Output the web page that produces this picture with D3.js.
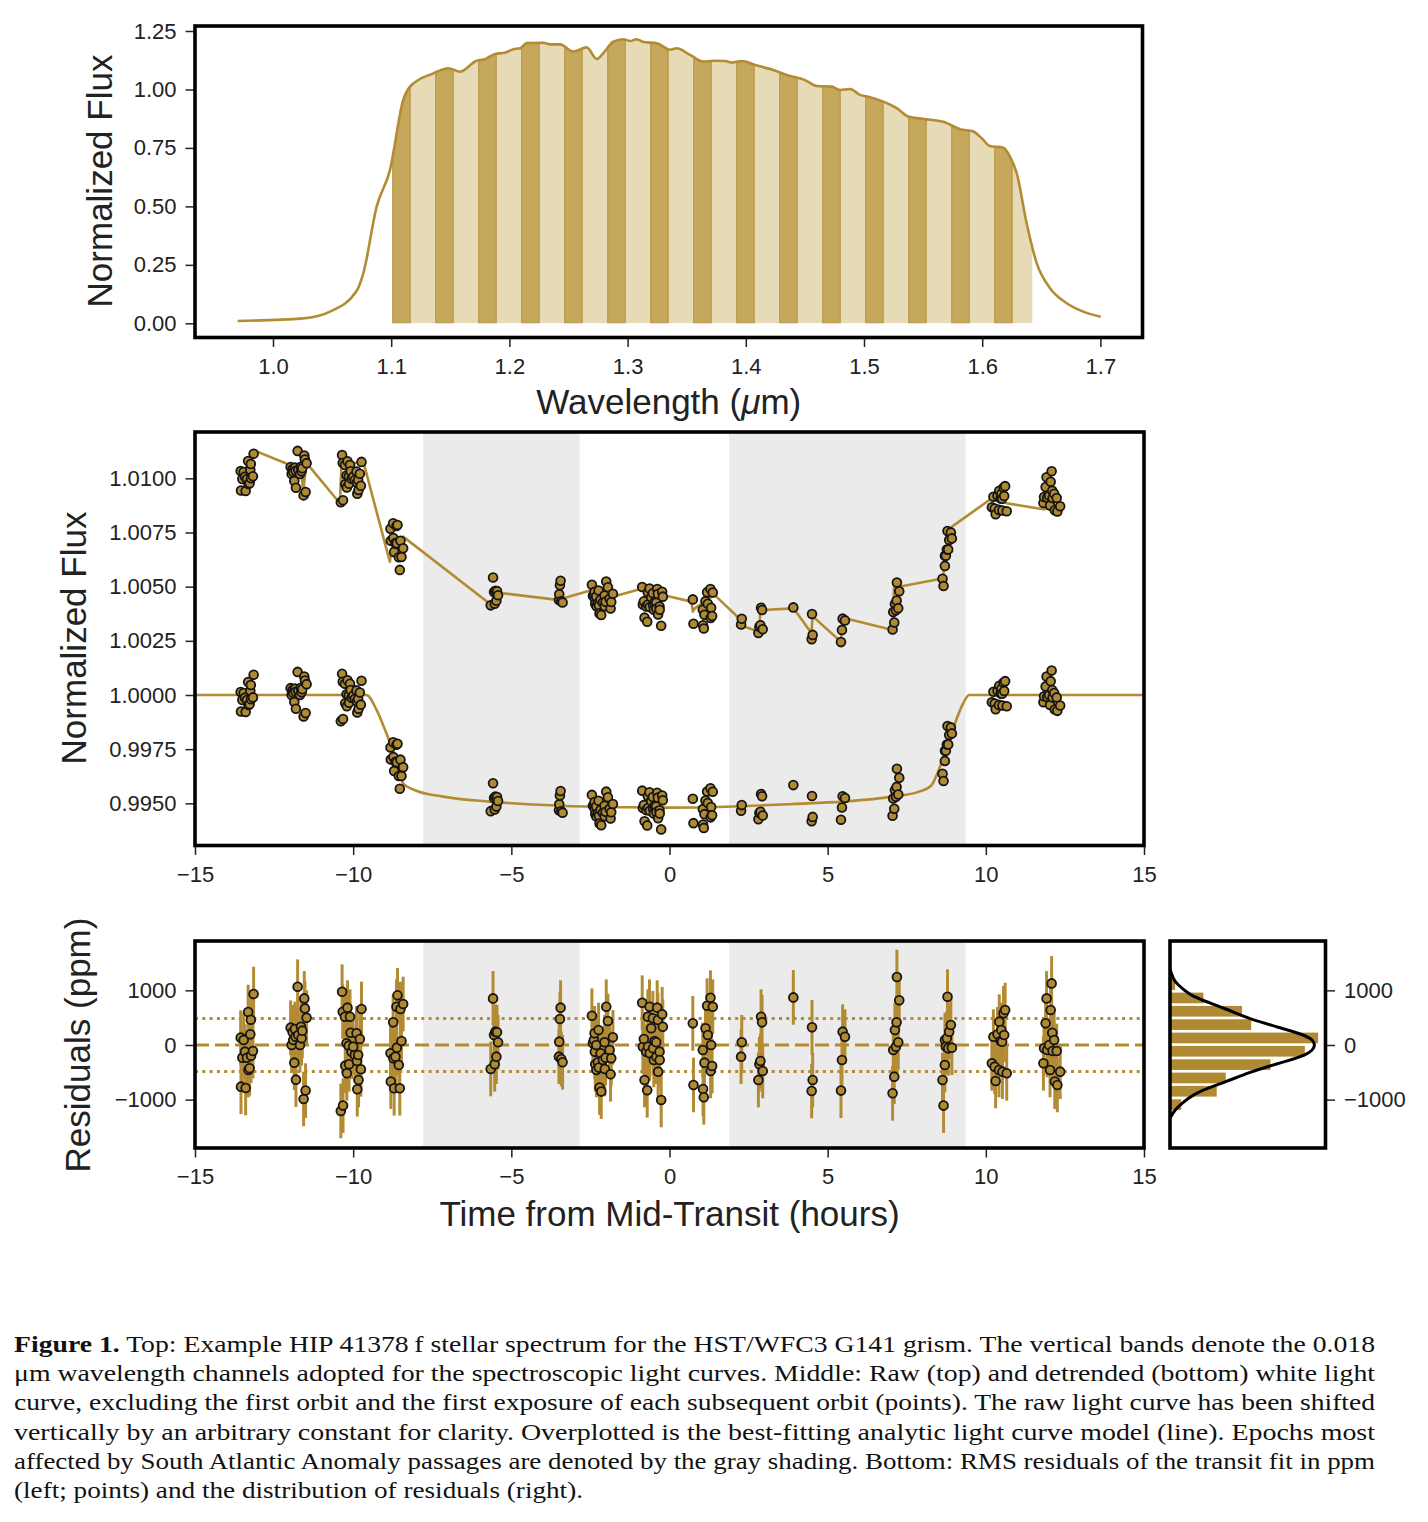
<!DOCTYPE html>
<html>
<head>
<meta charset="utf-8">
<script src="https://cdn.jsdelivr.net/npm/d3@7"></script>
<style>
  body { margin: 0; background: #fff; }
  text { font-family: "Liberation Sans", Arial, sans-serif; fill: #222; }
  .tick text { font-size: 22px; }
  .tick line { stroke: #222; stroke-width: 1.5; }
  .caption text { font-family: "Liberation Serif", "DejaVu Serif", serif; font-size: 24px; fill: #111; }
</style>
</head>
<body>
<svg id="fig"></svg>
<script>
// ---- stellar spectrum (top panel)
var specWave = [0.9701, 1.0256, 1.0482, 1.0708, 1.0764, 1.0877, 1.0990, 1.1102, 1.1159, 1.1356, 1.1483, 1.1582,
  1.1723, 1.1794, 1.1878, 1.1963, 1.2033, 1.2090, 1.2146, 1.2287, 1.2343, 1.2428, 1.2541, 1.2654, 1.2739,
  1.2794, 1.2879, 1.2964, 1.3020, 1.3077, 1.3133, 1.3246, 1.3359, 1.3415, 1.3528, 1.3640, 1.3725, 1.3824,
  1.3881, 1.3965, 1.4078, 1.4233, 1.4346, 1.4501, 1.4600, 1.4727, 1.4797, 1.4882, 1.4966, 1.5051, 1.5277,
  1.5375, 1.5502, 1.5671, 1.5812, 1.5925, 1.5996, 1.6066, 1.6179, 1.6235, 1.6292, 1.6376, 1.6461, 1.6574,
  1.6715, 1.6855, 1.7003];
var specFlux = [0.010, 0.021, 0.050, 0.139, 0.214, 0.499, 0.656, 0.955, 1.012, 1.069, 1.091, 1.076,
  1.123, 1.129, 1.152, 1.157, 1.172, 1.176, 1.198, 1.200, 1.193, 1.193, 1.162, 1.180, 1.130,
  1.155, 1.204, 1.215, 1.207, 1.215, 1.203, 1.198, 1.170, 1.176, 1.148, 1.119, 1.123, 1.122,
  1.115, 1.122, 1.105, 1.083, 1.062, 1.040, 1.015, 1.012, 0.998, 1.002, 0.977, 0.967, 0.920,
  0.884, 0.874, 0.862, 0.830, 0.820, 0.791, 0.758, 0.751, 0.713, 0.642, 0.428, 0.257, 0.150,
  0.086, 0.050, 0.028];
// 0.018 um wavelength channels
var bandStart = 1.1013, bandStep = 0.01819, nChannels = 30, bandEnd = 1.6424;
var wavTicks = [1.0, 1.1, 1.2, 1.3, 1.4, 1.5, 1.6, 1.7];
var specTicks = [0, 0.25, 0.5, 0.75, 1.0, 1.25];

// ---- light curve (middle + bottom panels), one array per HST orbit
var orbitT = [
  [-13.556, -13.546, -13.504, -13.462, -13.42, -13.399, -13.357, -13.32, -13.31, -13.273, -13.252, -13.235, -13.228, -13.168, -13.147],
  [-11.977, -11.945, -11.914, -11.893, -11.861, -11.840, -11.819, -11.809, -11.756, -11.735, -11.682, -11.651, -11.630, -11.609, -11.567, -11.546, -11.525, -11.504, -11.472],
  [-10.39, -10.35, -10.33, -10.32, -10.26, -10.25, -10.21, -10.20, -10.18, -10.14, -10.13, -10.10, -10.08, -10.05, -10.00, -9.947, -9.894, -9.88, -9.87, -9.842, -9.83, -9.789, -9.757, -9.736],
  [-8.82, -8.81, -8.736, -8.73, -8.705, -8.663, -8.631, -8.62, -8.599, -8.557, -8.526, -8.505, -8.473, -8.420],
  [-5.652, -5.578, -5.547, -5.526, -5.505, -5.473, -5.452, -5.42],
  [-3.495, -3.485, -3.464, -3.443, -3.422, -3.38],
  [-2.453, -2.421, -2.389, -2.368, -2.36, -2.347, -2.316, -2.31, -2.263, -2.242, -2.232, -2.211, -2.179, -2.158, -2.105, -2.053, -2.045, -2.021, -2.000, -1.947, -1.895, -1.863, -1.842, -1.789],
  [-0.863, -0.842, -0.811, -0.789, -0.737, -0.705, -0.684, -0.68, -0.632, -0.625, -0.579, -0.526, -0.52, -0.495, -0.474, -0.421, -0.415, -0.389, -0.368, -0.36, -0.316, -0.31, -0.263, -0.232, -0.211],
  [0.737, 0.758, 1.053, 1.06, 1.084, 1.105, 1.137, 1.189, 1.211, 1.295, 1.30, 1.316, 1.347, 1.368],
  [2.263, 2.284],
  [2.810, 2.842, 2.874, 2.895, 2.926, 2.947],
  [3.915],
  [4.494, 4.505, 4.526],
  [5.421, 5.452, 5.473, 5.547],
  [7.052, 7.073, 7.105, 7.126, 7.158, 7.179, 7.189, 7.231, 7.263],
  [8.631, 8.663, 8.705, 8.708, 8.736, 8.768, 8.789, 8.810, 8.842, 8.894, 8.926],
  [10.19, 10.24, 10.28, 10.31, 10.37, 10.415, 10.425, 10.47, 10.49, 10.515, 10.525, 10.56, 10.58, 10.61, 10.66],
  [11.82, 11.84, 11.89, 11.92, 11.94, 12.00, 12.03, 12.05, 12.08, 12.10, 12.11, 12.16, 12.18, 12.24, 12.26, 12.35]
];
// residuals in ppm, same order as orbitT
var orbitRes = [
  [134, -762, -232, 91, -122, -786, -232, 603, -457, -427, 195, 463, -195, -110, 932],
  [317, 0, 232, 91, -323, 293, 152, -634, 1066, 183, 0, 335, 122, 262, -987, 853, 670, -835, 500],
  [-1207, 975, 609, -1109, 518, -378, 30, -518, 683, -12, -353, 518, 225, -122, -30, -183, 213, -293, -810, -183, -640, 110, -445, 658],
  [-152, -670, 414, -244, -792, -213, 701, -49, 908, -366, -792, 658, 73, 750],
  [-439, 853, 183, -353, 244, -213, 232, 49],
  [-213, 61, 475, 683, -256, -317],
  [536, 30, 91, 213, -122, -353, 0, -457, -317, 274, -414, -780, -152, -853, -274, 49, -439, -232, 701, 439, -91, -536, -244, 140],
  [774, -30, 110, -640, -122, -829, 518, -30, 701, -152, 305, 488, -61, -274, 73, 49, -213, 683, 457, -488, -122, -274, -1006, 561, 335],
  [396, -731, -91, -804, -957, -323, 305, 719, 183, 865, -475, 0, -384, 701],
  [-213, 49],
  [-640, -353, -293, 518, 414, -475],
  [871],
  [-841, 323, -640],
  [-835, -274, 244, 152],
  [-884, -91, -579, 274, -30, 414, 1243, 49, 817],
  [-640, -1109, -366, 91, -30, 122, 884, -61, 244, 366, -49],
  [-335, 152, -396, -658, 195, -457, 427, 73, 274, 61, -488, 579, 183, 640, -518],
  [-335, -61, 396, 853, -91, 0, -457, 640, 1127, 225, -110, 91, -670, -110, -731, -488]
];
// raw light curve sits above the detrended one by this amount, per orbit
var rawOffset = [0.0102, 0.0102, 0.0101, 0.0101, 0.0095, 0.0097, 0.0097, 0.0094, 0.0092, 0.0086,
  0.0086, 0.0082, 0.0084, 0.0082, 0.0086, 0.0090, 0.0090, 0.0092];
var errPPM = 500;
var rmsPPM = 485;

// best-fitting transit model (detrended)
var modelT = [-15, -9.58, -9.26, -8.95, -8.63, -8.42, -8.00, -7.16, -5.68, -3.47, -1.47, 0, 1.79, 3.89, 5.47, 7.05, 7.89, 8.26, 8.63, 8.95, 9.26, 9.47, 15];
var modelF = [1, 1, 0.99931, 0.99823, 0.99700, 0.99592, 0.99558, 0.99531, 0.99508, 0.99489, 0.99482, 0.99480, 0.99484, 0.99497, 0.99508, 0.99531, 0.99554, 0.99580, 0.99700, 0.99838, 0.99954, 1, 1];

// raw (systematics + transit) model, evaluated at the exposures
var rawLineT = [-13.56, -13.15, -11.98, -11.62, -11.58, -11.50, -11.47, -10.42, -10.37, -9.68, -8.84, -8.74, -8.42,
  -5.63, -5.42, -3.47, -3.38, -2.45, -1.79, -0.86, -0.21, 0.69, 0.74, 0.80, 1.42, 2.26, 2.28, 2.84, 2.87, 2.95,
  3.92, 4.49, 4.52, 5.42, 5.47, 5.55, 7.05, 7.10, 7.26, 8.63, 8.93, 10.19, 10.66, 11.82, 12.35];
var rawLineF = [1.0099, 1.0113, 1.0106, 1.0101, 1.0093, 1.0105, 1.0107, 1.00885, 1.0106, 1.01077, 1.00615, 1.00715, 1.00731,
  1.00415, 1.00472, 1.00438, 1.00445, 1.00485, 1.00454, 1.00492, 1.00462, 1.00431, 1.00385, 1.00400, 1.00462, 1.00346, 1.00320, 1.00292, 1.00390, 1.00392,
  1.00400, 1.00285, 1.00364, 1.00246, 1.00354, 1.00354, 1.00300, 1.00500, 1.00500, 1.00538, 1.00777, 1.00908, 1.00885, 1.00857, 1.00870];

// epochs affected by SAA passages
var saaStart = [-7.79, 1.88];
var saaEnd = [-2.84, 9.36];

var timeTicks = [-15, -10, -5, 0, 5, 10, 15];
var fluxTicks = [0.995, 0.9975, 1.0, 1.0025, 1.005, 1.0075, 1.01];
var resTicks = [-1000, 0, 1000];

// residual histogram (density, x1e-4 per ppm) and gaussian fit
var histLo = [-1213, -969, -725, -481, -237, 7, 251, 495, 739, 983];
var histDensity = [0.63, 2.64, 3.15, 5.68, 7.62, 8.37, 4.59, 4.07, 1.89, 0.29];
var gaussPPM = [-1341, -1238, -1128, -976, -836, -671, -506, -348, -214, -91, 0, 91, 201, 335, 488, 659, 823, 946, 1098, 1220, 1385];
var gaussDen = [0, 0.19, 0.48, 1.05, 1.82, 3.15, 4.49, 6.02, 7.36, 8.03, 8.16, 8.03, 7.36, 6.02, 4.49, 3.15, 1.82, 1.05, 0.48, 0.19, 0];

var captionLines = [
  "Top: Example HIP 41378\u2009f stellar spectrum for the HST/WFC3 G141 grism.  The vertical bands denote the 0.018",
  "\u03bcm wavelength channels adopted for the spectroscopic light curves.  Middle:  Raw (top) and detrended (bottom) white light",
  "curve, excluding the first orbit and the first exposure of each subsequent orbit (points).  The raw light curve has been shifted",
  "vertically by an arbitrary constant for clarity.  Overplotted is the best-fitting analytic light curve model (line).  Epochs most",
  "affected by South Atlantic Anomaly passages are denoted by the gray shading.  Bottom:  RMS residuals of the transit fit in ppm",
  "(left; points) and the distribution of residuals (right)."
];
var captionWidths = [1361, 1361, 1361, 1361, 1361, 569];

var gold = "#b38b33";
var dotFill = "#b08a32";

var svg = d3.select("#fig").attr("width", 1428).attr("height", 1522);
svg.append("rect").attr("width", 1428).attr("height", 1522).attr("fill", "#fff");

function styleAxis(g) {
  g.select(".domain").remove();
  return g;
}
function frame(x0, y0, x1, y1) {
  svg.append("rect")
    .attr("x", x0).attr("y", y0)
    .attr("width", x1 - x0).attr("height", y1 - y0)
    .attr("fill", "none").attr("stroke", "#000").attr("stroke-width", 3.6);
}

// ================= TOP PANEL =================
var pTop = { l: 195, r: 1142.5, t: 26, b: 337.5 };
var xW = d3.scaleLinear().domain([0.93401, 1.73562]).range([pTop.l, pTop.r]);
var yS = d3.scaleLinear().domain([-0.0607, 1.2714]).range([pTop.b, pTop.t]);

var spec = specWave.map(function(w, i) { return { w: w, f: specFlux[i] }; });

var underCurve = d3.area()
  .x(function(d) { return xW(d.w); })
  .y0(yS(0))
  .y1(function(d) { return yS(d.f); })
  .curve(d3.curveMonotoneX);

svg.append("clipPath").attr("id", "specClip")
  .append("path").attr("d", underCurve(spec));

var bands = svg.append("g").attr("clip-path", "url(#specClip)");
bands.append("rect")
  .attr("x", xW(bandStart)).attr("y", pTop.t)
  .attr("width", xW(bandEnd) - xW(bandStart))
  .attr("height", yS(0) - pTop.t)
  .attr("fill", "#e7dab7");

var channels = d3.range(nChannels).filter(function(i) { return i % 2 === 0; });
bands.selectAll("rect.dark")
  .data(channels)
  .enter()
  .append("rect")
  .attr("class", "dark")
  .attr("x", function(i) { return xW(bandStart + i * bandStep); })
  .attr("y", pTop.t)
  .attr("width", xW(bandStart + 0.81 * bandStep) - xW(bandStart))
  .attr("height", yS(0) - pTop.t)
  .attr("fill", "#c6a85d")
  .attr("stroke", "#b9974a")
  .attr("stroke-width", 1.2);

svg.append("path")
  .datum(spec)
  .attr("fill", "none")
  .attr("stroke", gold)
  .attr("stroke-width", 2.6)
  .attr("stroke-linejoin", "round")
  .attr("d", d3.line()
    .x(function(d) { return xW(d.w); })
    .y(function(d) { return yS(d.f); })
    .curve(d3.curveMonotoneX));

svg.append("g")
  .attr("transform", "translate(0," + pTop.b + ")")
  .call(d3.axisBottom(xW).tickValues(wavTicks).tickFormat(d3.format(".1f")).tickSize(9.5).tickPadding(11))
  .call(styleAxis);
svg.append("g")
  .attr("transform", "translate(" + pTop.l + ",0)")
  .call(d3.axisLeft(yS).tickValues(specTicks).tickFormat(d3.format(".2f")).tickSize(9.5).tickPadding(9))
  .call(styleAxis);
frame(pTop.l, pTop.t, pTop.r, pTop.b);

var wl = svg.append("text")
  .attr("x", (pTop.l + pTop.r) / 2).attr("y", 414)
  .attr("text-anchor", "middle").attr("font-size", 35);
wl.append("tspan").text("Wavelength (");
wl.append("tspan").attr("font-style", "italic").text("\u03bc");
wl.append("tspan").text("m)");

svg.append("text")
  .attr("transform", "translate(111.5,181) rotate(-90)")
  .attr("text-anchor", "middle").attr("font-size", 35)
  .text("Normalized Flux");

// ================= MIDDLE PANEL =================
var pMid = { l: 195, r: 1144, t: 432, b: 845.5 };
var xT = d3.scaleLinear().domain([-15, 15]).range([pMid.l, pMid.r]);
var yF = d3.scaleLinear().domain([0.993054, 1.012138]).range([pMid.b, pMid.t]);
var modelAt = d3.scaleLinear().domain(modelT).range(modelF);

var obs = [];
orbitT.forEach(function(ts, k) {
  ts.forEach(function(t, j) {
    var r = orbitRes[k][j];
    var det = modelAt(t) + r * 1e-6;
    obs.push({ t: t, res: r, det: det, raw: det + rawOffset[k] });
  });
});

svg.selectAll("rect.saaMid")
  .data(saaStart)
  .enter()
  .append("rect")
  .attr("class", "saaMid")
  .attr("x", function(d) { return xT(d); })
  .attr("y", pMid.t)
  .attr("width", function(d, i) { return xT(saaEnd[i]) - xT(d); })
  .attr("height", pMid.b - pMid.t)
  .attr("fill", "#ebebeb");

var rawLine = rawLineT.map(function(t, i) { return [t, rawLineF[i]]; });
svg.append("path")
  .datum(rawLine)
  .attr("fill", "none")
  .attr("stroke", gold)
  .attr("stroke-width", 2.6)
  .attr("stroke-linejoin", "round")
  .attr("d", d3.line()
    .x(function(d) { return xT(d[0]); })
    .y(function(d) { return yF(d[1]); }));

var model = modelT.map(function(t, i) { return [t, modelF[i]]; });
svg.append("path")
  .datum(model)
  .attr("fill", "none")
  .attr("stroke", gold)
  .attr("stroke-width", 2.6)
  .attr("d", d3.line()
    .x(function(d) { return xT(d[0]); })
    .y(function(d) { return yF(d[1]); })
    .curve(d3.curveMonotoneX));

["raw", "det"].forEach(function(key) {
  svg.append("g").selectAll("circle")
    .data(obs)
    .enter()
    .append("circle")
    .attr("cx", function(d) { return xT(d.t); })
    .attr("cy", function(d) { return yF(d[key]); })
    .attr("r", 4.4)
    .attr("fill", dotFill)
    .attr("stroke", "#151515")
    .attr("stroke-width", 1.8);
});

svg.append("g")
  .attr("transform", "translate(0," + pMid.b + ")")
  .call(d3.axisBottom(xT).tickValues(timeTicks).tickFormat(d3.format("d")).tickSize(9.5).tickPadding(11))
  .call(styleAxis);
svg.append("g")
  .attr("transform", "translate(" + pMid.l + ",0)")
  .call(d3.axisLeft(yF).tickValues(fluxTicks).tickFormat(d3.format(".4f")).tickSize(9.5).tickPadding(9))
  .call(styleAxis);
frame(pMid.l, pMid.t, pMid.r, pMid.b);

svg.append("text")
  .attr("transform", "translate(85.5,638) rotate(-90)")
  .attr("text-anchor", "middle").attr("font-size", 35)
  .text("Normalized Flux");

// ================= BOTTOM PANEL =================
var pBot = { l: 195, r: 1144, t: 941, b: 1148 };
var yR = d3.scaleLinear().domain([-1885, 1903]).range([pBot.b, pBot.t]);

svg.selectAll("rect.saaBot")
  .data(saaStart)
  .enter()
  .append("rect")
  .attr("class", "saaBot")
  .attr("x", function(d) { return xT(d); })
  .attr("y", pBot.t)
  .attr("width", function(d, i) { return xT(saaEnd[i]) - xT(d); })
  .attr("height", pBot.b - pBot.t)
  .attr("fill", "#ebebeb");

svg.append("g").selectAll("line")
  .data(obs)
  .enter()
  .append("line")
  .attr("x1", function(d) { return xT(d.t); })
  .attr("x2", function(d) { return xT(d.t); })
  .attr("y1", function(d) { return yR(d.res - errPPM); })
  .attr("y2", function(d) { return yR(d.res + errPPM); })
  .attr("stroke", gold)
  .attr("stroke-width", 3);

[rmsPPM, -rmsPPM].forEach(function(v) {
  svg.append("line")
    .attr("x1", pBot.l).attr("x2", pBot.r)
    .attr("y1", yR(v)).attr("y2", yR(v))
    .attr("stroke", gold).attr("stroke-width", 3)
    .attr("stroke-dasharray", "3,4.3");
});
svg.append("line")
  .attr("x1", pBot.l).attr("x2", pBot.r)
  .attr("y1", yR(0)).attr("y2", yR(0))
  .attr("stroke", gold).attr("stroke-width", 3)
  .attr("stroke-dasharray", "14,6");

svg.append("g").selectAll("circle")
  .data(obs)
  .enter()
  .append("circle")
  .attr("cx", function(d) { return xT(d.t); })
  .attr("cy", function(d) { return yR(d.res); })
  .attr("r", 4.4)
  .attr("fill", dotFill)
  .attr("stroke", "#151515")
  .attr("stroke-width", 1.8);

svg.append("g")
  .attr("transform", "translate(0," + pBot.b + ")")
  .call(d3.axisBottom(xT).tickValues(timeTicks).tickFormat(d3.format("d")).tickSize(9.5).tickPadding(11))
  .call(styleAxis);
svg.append("g")
  .attr("transform", "translate(" + pBot.l + ",0)")
  .call(d3.axisLeft(yR).tickValues(resTicks).tickFormat(d3.format("d")).tickSize(9.5).tickPadding(9))
  .call(styleAxis);
frame(pBot.l, pBot.t, pBot.r, pBot.b);

svg.append("text")
  .attr("x", (pBot.l + pBot.r) / 2).attr("y", 1226)
  .attr("text-anchor", "middle").attr("font-size", 35)
  .text("Time from Mid-Transit (hours)");
svg.append("text")
  .attr("transform", "translate(90,1045) rotate(-90)")
  .attr("text-anchor", "middle").attr("font-size", 35)
  .text("Residuals (ppm)");

// ================= HISTOGRAM PANEL =================
var pHist = { l: 1170, r: 1325.5, t: 941, b: 1148 };
var binW = histLo[1] - histLo[0];
var xH = d3.scaleLinear().domain([0, 1.05 * d3.max(histDensity)]).range([pHist.l, pHist.r]);

svg.append("g").selectAll("rect")
  .data(histLo)
  .enter()
  .append("rect")
  .attr("x", xH(0))
  .attr("y", function(d) { return yR(d + 0.9 * binW); })
  .attr("width", function(d, i) { return xH(histDensity[i]) - xH(0); })
  .attr("height", function(d) { return yR(d + 0.1 * binW) - yR(d + 0.9 * binW); })
  .attr("fill", dotFill);

var gauss = gaussPPM.map(function(p, i) { return [p, gaussDen[i]]; });
svg.append("path")
  .datum(gauss)
  .attr("fill", "none")
  .attr("stroke", "#000")
  .attr("stroke-width", 3)
  .attr("d", d3.line()
    .x(function(d) { return xH(d[1]); })
    .y(function(d) { return yR(d[0]); })
    .curve(d3.curveNatural));

svg.append("g")
  .attr("transform", "translate(" + pHist.r + ",0)")
  .call(d3.axisRight(yR).tickValues(resTicks).tickFormat(d3.format("d")).tickSize(9.5).tickPadding(9))
  .call(styleAxis);
frame(pHist.l, pHist.t, pHist.r, pHist.b);

// ================= CAPTION =================
var cap = svg.append("g").attr("class", "caption");
captionLines.forEach(function(line, i) {
  var t = cap.append("text")
    .attr("x", 14)
    .attr("y", 1352 + i * 29.2)
    .attr("textLength", captionWidths[i])
    .attr("lengthAdjust", "spacingAndGlyphs");
  if (i === 0) {
    t.append("tspan").attr("font-weight", "bold").text("Figure 1.");
    t.append("tspan").text("  " + line);
  } else {
    t.text(line);
  }
});
</script>
</body>
</html>
